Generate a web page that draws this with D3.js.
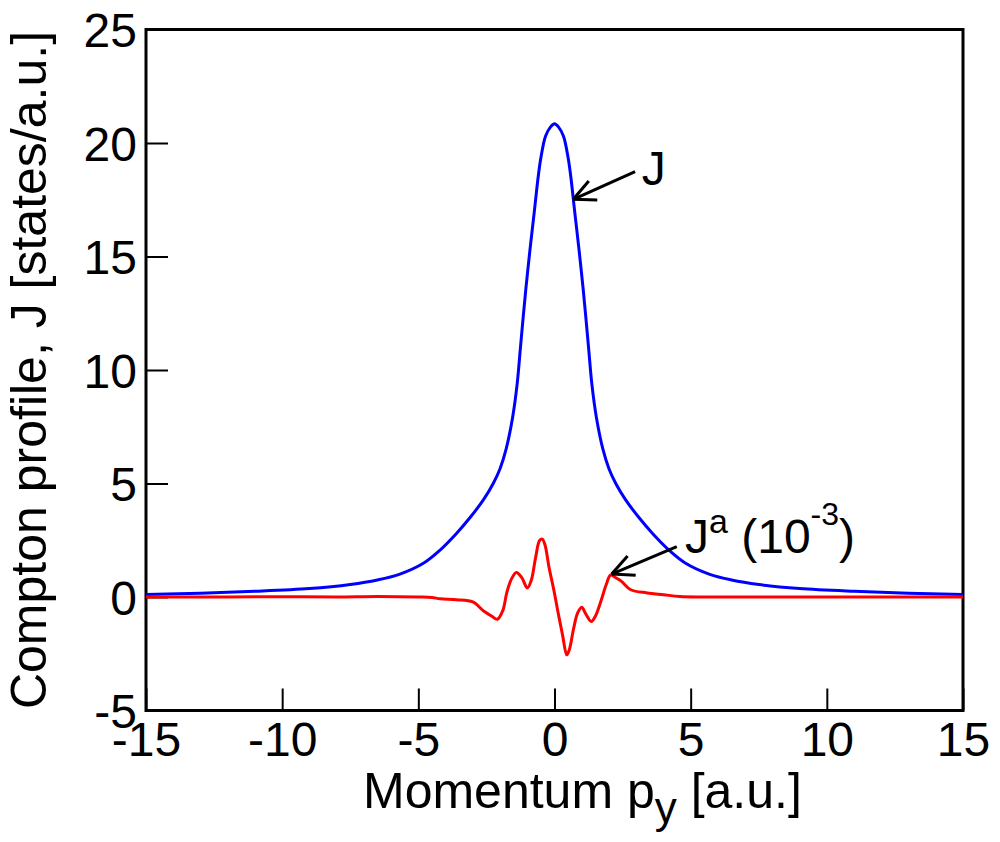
<!DOCTYPE html>
<html>
<head>
<meta charset="utf-8">
<script src="https://cdn.jsdelivr.net/npm/d3@7.9.0/dist/d3.min.js"></script>
<style>
  body { margin: 0; background: #fff; }
  text { font-family: "Liberation Sans", Arial, sans-serif; fill: #000; }
</style>
</head>
<body>
<div id="chart"></div>
<script>
// Compton profile J (blue)
const pJ = [-15, -13, -11, -9, -7.5, -6.5, -5.7, -4.8, -4.2, -3.6, -3.1, -2.6, -2.25, -2, -1.78, -1.54, -1.37, -1.25, -1.05, -0.9, -0.73, -0.6, -0.5, -0.33, -0.15,
  0, 0.15, 0.33, 0.5, 0.6, 0.73, 0.9, 1.05, 1.25, 1.37, 1.54, 1.78, 2, 2.25, 2.6, 3.1, 3.6, 4.2, 4.8, 5.7, 6.5, 7.5, 9, 11, 13, 15];
const J = [0.11, 0.17, 0.25, 0.37, 0.55, 0.75, 1.0, 1.5, 2.07, 2.8, 3.5, 4.3, 5.0, 5.65, 6.5, 7.9, 9.4, 11.0, 13.6, 15.3, 17.1, 18.5, 19.35, 20.3, 20.7,
  20.85, 20.7, 20.3, 19.35, 18.5, 17.1, 15.3, 13.6, 11.0, 9.4, 7.9, 6.5, 5.65, 5.0, 4.3, 3.5, 2.8, 2.07, 1.5, 1.0, 0.75, 0.55, 0.37, 0.25, 0.17, 0.11];

// anisotropy J^a (x10^-3, red)
const pJa = [-15, -12, -10, -8, -6.5, -5, -4.5, -4.2, -3.6, -3.0, -2.6, -2.3, -2.1, -1.9, -1.75, -1.57, -1.4, -1.2, -1.0, -0.85, -0.7, -0.55, -0.45, -0.35, -0.2, -0.04,
  0.15, 0.3, 0.45, 0.55, 0.7, 0.85, 1.0, 1.15, 1.35, 1.5, 1.7, 1.9, 2.06, 2.25, 2.45, 2.8, 3.4, 4.0, 4.6, 5.5, 7, 10, 12, 15];
const Ja = [0, 0, 0.01, 0, 0.02, 0, -0.02, -0.08, -0.12, -0.22, -0.62, -0.85, -0.98, -0.6, 0.2, 0.82, 1.08, 0.85, 0.4, 0.75, 1.7, 2.48, 2.55, 2.3, 1.3, 0.4,
  -0.8, -1.7, -2.55, -2.3, -1.4, -0.7, -0.45, -0.75, -1.08, -0.85, -0.2, 0.55, 0.97, 0.85, 0.7, 0.32, 0.18, 0.1, 0.02, 0, 0, 0, 0, 0];

const xTicks = [-15, -10, -5, 0, 5, 10, 15];
const yTicks = [-5, 0, 5, 10, 15, 20, 25];

const width = 1000, height = 842;
const margin = { top: 29.5, right: 37, bottom: 131.5, left: 146 };
const innerWidth = width - margin.left - margin.right;
const innerHeight = height - margin.top - margin.bottom;

const svg = d3.select('#chart').append('svg')
  .attr('width', width)
  .attr('height', height);

const g = svg.append('g')
  .attr('transform', `translate(${margin.left},${margin.top})`);

const x = d3.scaleLinear().domain([-15, 15]).range([0, innerWidth]);
const y = d3.scaleLinear().domain([-5, 25]).range([innerHeight, 0]);

// plain hyphen for negatives, like the original
const fmt = d => String(d);

// x axis, ticks pointing inward
const xAxis = g.append('g')
  .attr('transform', `translate(0,${innerHeight})`)
  .call(d3.axisBottom(x).tickValues(xTicks).tickFormat(fmt).tickSizeInner(-22).tickSizeOuter(0).tickPadding(11));
xAxis.select('.domain').remove();
xAxis.selectAll('.tick line').attr('stroke', '#000').attr('stroke-width', 2);
xAxis.selectAll('.tick text').attr('font-size', 48).attr('font-family', '"Liberation Sans", Arial, sans-serif');

const yAxis = g.append('g')
  .call(d3.axisLeft(y).tickValues(yTicks).tickFormat(fmt).tickSizeInner(-22).tickSizeOuter(0).tickPadding(9));
yAxis.select('.domain').remove();
yAxis.selectAll('.tick line').attr('stroke', '#000').attr('stroke-width', 2);
yAxis.selectAll('.tick text').attr('font-size', 48).attr('dy', '0.36em').attr('font-family', '"Liberation Sans", Arial, sans-serif');

// frame
g.append('rect')
  .attr('x', 0).attr('y', 0)
  .attr('width', innerWidth).attr('height', innerHeight)
  .attr('fill', 'none')
  .attr('stroke', '#000')
  .attr('stroke-width', 3);

const line = d3.line()
  .x(d => x(d[0]))
  .y(d => y(d[1]))
  .curve(d3.curveCatmullRom);

g.append('path')
  .datum(pJ.map((p, i) => [p, J[i]]))
  .attr('d', line)
  .attr('fill', 'none')
  .attr('stroke', '#0000ff')
  .attr('stroke-width', 3);

g.append('path')
  .datum(pJa.map((p, i) => [p, Ja[i]]))
  .attr('d', line)
  .attr('fill', 'none')
  .attr('stroke', '#ff0000')
  .attr('stroke-width', 3);

// annotation arrows (data coordinates)
const arrows = [
  { from: [2.96, 18.74], to: [0.69, 17.52] },
  { from: [4.49, 2.22], to: [2.10, 1.01] }
];
arrows.forEach(a => {
  const x0 = x(a.from[0]), y0 = y(a.from[1]);
  const x1 = x(a.to[0]), y1 = y(a.to[1]);
  const ang = Math.atan2(y0 - y1, x0 - x1);
  const len = 24, spread = Math.PI / 7;
  g.append('line')
    .attr('x1', x0).attr('y1', y0).attr('x2', x1).attr('y2', y1)
    .attr('stroke', '#000').attr('stroke-width', 3);
  [-spread, spread].forEach(s => {
    g.append('line')
      .attr('x1', x1).attr('y1', y1)
      .attr('x2', x1 + len * Math.cos(ang + s))
      .attr('y2', y1 + len * Math.sin(ang + s))
      .attr('stroke', '#000').attr('stroke-width', 3);
  });
});

g.append('text')
  .attr('x', x(3.2)).attr('y', y(18.15))
  .attr('font-size', 48)
  .text('J');

const ja = g.append('text')
  .attr('x', x(4.79)).attr('y', y(1.93))
  .attr('font-size', 48);
ja.append('tspan').text('J');
ja.append('tspan').attr('font-size', 34).attr('dy', -20).text('a');
ja.append('tspan').attr('dy', 20).text(' (10');
ja.append('tspan').attr('font-size', 32).attr('dy', -28).text('-3');
ja.append('tspan').attr('dy', 28).text(')');

// axis titles
const xt = svg.append('text')
  .attr('x', 363)
  .attr('y', 808)
  .attr('font-size', 50);
xt.append('tspan').text('Momentum p');
xt.append('tspan').attr('font-size', 44).attr('dy', 15).text('y');
xt.append('tspan').attr('dy', -15).text(' [a.u.]');

svg.append('text')
  .attr('transform', `translate(46,${margin.top + innerHeight / 2}) rotate(-90)`)
  .attr('text-anchor', 'middle')
  .attr('font-size', 50)
  .text('Compton profile, J [states/a.u.]');
</script>
</body>
</html>
